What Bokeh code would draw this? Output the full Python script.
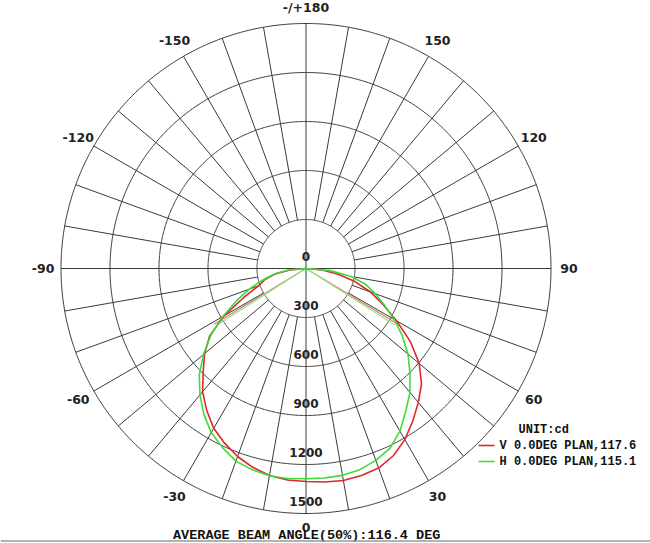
import numpy as np
from bokeh.plotting import figure
from bokeh.models import Range1d
from bokeh.core.properties import value
from bokeh.embed import file_html
from bokeh.resources import INLINE

# ---------------- data ----------------
gamma = list(range(-90, 91, 5))
v_plane = [0, 100, 190, 260, 310, 420, 580, 720, 810, 890, 985, 1060, 1130, 1180,
           1225, 1260, 1287, 1300, 1304, 1312, 1318, 1312, 1300, 1265, 1210, 1140,
           1070, 1000, 905, 780, 640, 520, 420, 310, 200, 100, 0]
h_plane = [0, 110, 200, 277, 370, 470, 590, 710, 820, 924, 1010, 1090, 1160, 1210,
           1255, 1275, 1288, 1291, 1287, 1288, 1286, 1275, 1250, 1215, 1150, 1065,
           990, 900, 815, 720, 625, 530, 450, 380, 280, 150, 0]
v_beam = 117.6
h_beam = 115.1
ring_values = [300, 600, 900, 1200, 1500]
ring_labels = ["0", "300", "600", "900", "1200", "1500"]
ring_label_values = [0, 300, 600, 900, 1200, 1500]
angle_ticks = [180, 150, 120, 90, 60, 30, 0, -30, -60, -90, -120, -150]
angle_labels = ["-/+180", "150", "120", "90", "60", "30", "0", "-30", "-60", "-90", "-120", "-150"]
legend_names = ["V 0.0DEG PLAN,117.6", "H 0.0DEG PLAN,115.1"]
unit_text = "UNIT:cd"
footer_text = "AVERAGE BEAM ANGLE(50%):116.4 DEG"

# ---------------- layout helpers ----------------
W, H = 650, 543
X0, Y0 = 0, 0                  # page position of the figure
CX, CY = 305.5, 268.0          # screen position of pole
S = 1500 / 245.0               # cd per pixel


def sx(px):
    return (px - CX) * S


def sy(py):
    return (CY - py) * S


def pol(r, deg):
    t = np.radians(np.asarray(deg, dtype=float))
    r = np.asarray(r, dtype=float)
    return r * np.sin(t), -r * np.cos(t)


p = figure(width=W, height=H, output_backend="svg", toolbar_location=None,
           x_axis_location=None, y_axis_location=None, min_border=0,
           x_range=Range1d(sx(X0), sx(X0 + W)), y_range=Range1d(sy(Y0 + H), sy(Y0)))
p.grid.visible = False
p.outline_line_color = None
p.background_fill_color = "white"

GRID = "#3a3a3a"

# rings
t = np.linspace(0, 360, 721)
rx, ry = [], []
for r in ring_values:
    x, y = pol(np.full_like(t, r), t)
    rx.append(list(x)); ry.append(list(y))
p.multi_line(rx, ry, line_color=GRID, line_width=1)

# spokes
sxs, sys_ = [], []
for a in range(0, 360, 10):
    r0 = 0 if a % 90 == 0 else ring_values[0]
    x, y = pol([r0, ring_values[-1]], [a, a])
    sxs.append(list(x)); sys_.append(list(y))
p.multi_line(sxs, sys_, line_color=GRID, line_width=1)

# ring labels
lx = [0] * len(ring_label_values)
ly = [-v for v in ring_label_values]
p.text(lx, ly, text=ring_labels, text_align="center", text_baseline="middle",
       y_offset=-12, text_font=value("DejaVu Sans"), text_font_style="bold",
       text_font_size="12px", text_color="#222222")

# angle labels
lr = [1585 if a == 0 else (1595 if a == 180 else 1610) for a in angle_ticks]
ax, ay = pol(lr, angle_ticks)
p.text(list(ax), list(ay), text=angle_labels, text_align="center", text_baseline="middle",
       text_font=value("DejaVu Sans"), text_font_style="bold", text_font_size="12.5px",
       text_color="#222222")

RED = "#e0262b"
GREEN = "#3cdc3c"

# beam angle lines (half-max)
for vals, beam, col in [(v_plane, v_beam, "#e87a7a"), (h_plane, h_beam, "#8ee88e")]:
    half = 0.5 * max(vals)
    for sgn in (-1, 1):
        x, y = pol([0, half], [0, sgn * beam / 2])
        p.line(list(x), list(y), line_color=col, line_width=1.3)

# curves
for vals, col in [(v_plane, RED), (h_plane, GREEN)]:
    x, y = pol(vals, gamma)
    p.line(list(x), list(y), line_color=col, line_width=1.6)

# legend
MONO = value("Liberation Mono")
p.text([sx(518)], [sy(429)], text=[unit_text], text_align="left", text_baseline="middle",
       text_font=MONO, text_font_style="bold", text_font_size="12px", text_color="#111111")
for i, (name, col) in enumerate(zip(legend_names, [RED, GREEN])):
    yy = sy(445 + 16 * i)
    p.line([sx(478), sx(494)], [yy, yy], line_color=col, line_width=1.6)
    p.text([sx(499)], [yy], text=[name], text_align="left", text_baseline="middle",
           text_font=MONO, text_font_style="bold", text_font_size="12px", text_color="#111111")

# footer
p.text([sx(172.5)], [sy(534.5)], text=[footer_text], text_align="left", text_baseline="middle",
       text_font=MONO, text_font_style="bold", text_font_size="13.5px", text_color="#111111")
p.line([sx(0), sx(650)], [sy(540.5), sy(540.5)], line_color="#999999", line_width=1.5)

open("out.html", "w").write(file_html(p, INLINE))
